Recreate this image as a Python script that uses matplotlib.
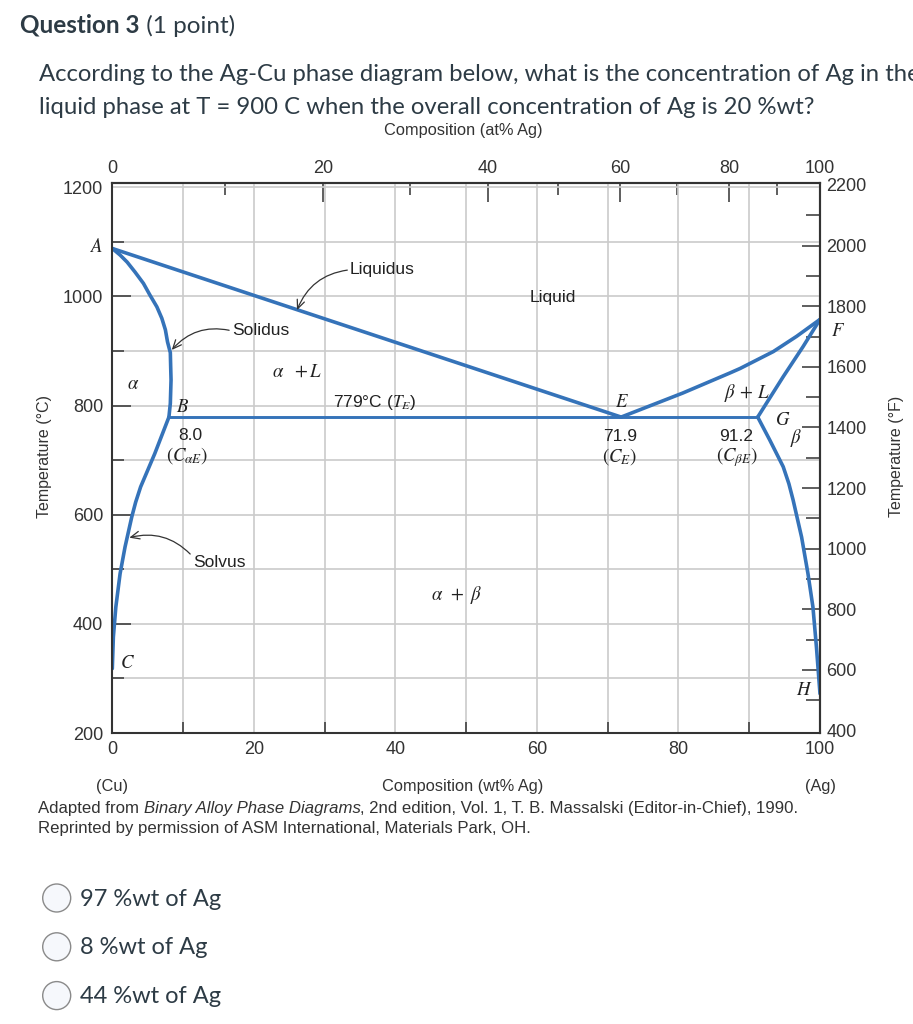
import numpy as np
import matplotlib
matplotlib.use("Agg")
import matplotlib.pyplot as plt
from matplotlib.patches import Circle

plt.rcParams['font.family'] = ['Liberation Sans', 'DejaVu Sans']
plt.rcParams['mathtext.fontset'] = 'stix'

# phase boundaries (wt% Ag, deg C)
liquidus_cu_wt = [0, 71.9]
liquidus_cu_T = [1088, 779]
liquidus_ag_wt = [71.9, 80.6, 87.3, 88.7, 93.4, 96.7, 100]
liquidus_ag_T = [779, 823, 860, 868, 899, 927, 958]
solidus_a_wt = [0, 1.1, 2.1, 3.2, 4.4, 5.3, 6.3, 7.0, 7.5, 7.8, 8.2, 8.25, 8.3, 8.2, 8.0]
solidus_a_T = [1088, 1076, 1063, 1045, 1024, 1003, 981, 960, 939, 917, 897, 871, 847, 804, 779]
solvus_a_wt = [8.0, 6.0, 4.0, 3.3, 2.75, 1.8, 1.1, 0.5, 0.15, 0]
solvus_a_T = [779, 712, 651, 623, 596, 541, 492, 431, 376, 318]
solidus_b_wt = [91.2, 94.8, 97.6, 100]
solidus_b_T = [779, 853, 908, 958]
solvus_b_wt = [91.2, 92.9, 94.8, 95.6, 96.2, 97.4, 98.3, 99.0, 99.5, 100]
solvus_b_T = [779, 737, 688, 657, 627, 559, 492, 431, 357, 272]
eutectic_wt = [8.0, 91.2]
eutectic_T = [779, 779]

wt_ticks = [0, 20, 40, 60, 80, 100]
wt_minor = [10, 30, 50, 70, 90]
at_ticks = [0, 20, 40, 60, 80, 100]
at_minor = [10, 30, 50, 70, 90]
degC_ticks = [200, 400, 600, 800, 1000, 1200]
degC_minor = [300, 500, 700, 900, 1100]
degF_ticks = [400, 600, 800, 1000, 1200, 1400, 1600, 1800, 2000, 2200]
degF_minor = [500, 700, 900, 1100, 1300, 1500, 1700, 1900, 2100]

options = ["97 %wt of Ag", "8 %wt of Ag", "44 %wt of Ag"]

M_CU, M_AG = 63.55, 107.87


def wt2at(w):
    w = np.asarray(w, dtype=float)
    with np.errstate(divide='ignore', invalid='ignore'):
        return 100 * (w / M_AG) / (w / M_AG + (100 - w) / M_CU)


def at2wt(a):
    a = np.asarray(a, dtype=float)
    with np.errstate(divide='ignore', invalid='ignore'):
        return 100 * a * M_AG / (a * M_AG + (100 - a) * M_CU)


def c2f(c):
    return np.asarray(c, dtype=float) * 9 / 5 + 32


def f2c(f):
    return (np.asarray(f, dtype=float) - 32) * 5 / 9


W, H = 913, 1024
fig = plt.figure(figsize=(W / 100, H / 100), dpi=100)

# page overlay in pixel coordinates
pg = fig.add_axes([0, 0, 1, 1])
pg.set_xlim(0, W)
pg.set_ylim(H, 0)
pg.axis('off')

qcol = '#2d3b45'
t1 = pg.text(20, 33, "Question 3", family='Lato', weight='bold', size=17.5,
             color=qcol, va='baseline')
pg.annotate(" (1 point)", xy=(1, 0), xycoords=t1, va='bottom', ha='left',
            family='Lato', size=17.5, color=qcol)
pg.text(39, 81, "According to the Ag-Cu phase diagram below, what is the concentration of Ag in the",
        family='Lato', size=17.2, color=qcol, va='baseline')
pg.text(39, 114, "liquid phase at T = 900 C when the overall concentration of Ag is 20 %wt?",
        family='Lato', size=17.2, color=qcol, va='baseline')

for i, opt in enumerate(options):
    cy = 898 + i * 48.8
    pg.add_patch(Circle((56.7, cy), 14, facecolor='#f6f8fc', edgecolor='#8a8a8a', lw=1))
    pg.text(80, cy + 1, opt, family='Lato', size=17, color=qcol, va='center')

tcol = '#333333'
pg.text(463, 130, "Composition (at% Ag)", ha='center', va='center', size=11.8, color=tcol)
pg.text(45, 456, "Temperature (°C)", ha='center', va='center', rotation=90, size=11.5, color=tcol)
pg.text(896, 456, "Temperature (°F)", ha='center', va='center', rotation=90, size=11.5, color=tcol)
pg.text(112, 786, "(Cu)", ha='center', va='center', size=11.8, color=tcol)
pg.text(463, 786, "Composition (wt% Ag)", ha='center', va='center', size=11.8, color=tcol)
pg.text(820, 786, "(Ag)", ha='center', va='center', size=11.8, color=tcol)
cap = 12.1
c1 = pg.text(38, 808, "Adapted from ", va='center', size=cap, color=tcol)
c2 = pg.annotate("Binary Alloy Phase Diagrams", xy=(1, 0), xycoords=c1, va='bottom',
                 style='italic', size=cap, color=tcol)
pg.annotate(", 2nd edition, Vol. 1, T. B. Massalski (Editor-in-Chief), 1990.", xy=(1, 0),
            xycoords=c2, va='bottom', size=cap, color=tcol)
pg.text(38, 829, "Reprinted by permission of ASM International, Materials Park, OH.",
        va='center', size=cap, color=tcol)

# the phase diagram
left, right, top, bottom = 112.3, 820, 183, 733
ax = fig.add_axes([left / W, 1 - bottom / H, (right - left) / W, (bottom - top) / H])
ax.set_xlim(0, 100)
ax.set_ylim(200, 1208)

blue = '#3573b9'
kw = dict(color=blue, lw=2.6, solid_capstyle='round', solid_joinstyle='round')
ax.plot(liquidus_cu_wt, liquidus_cu_T, **kw)
ax.plot(liquidus_ag_wt, liquidus_ag_T, **kw)
ax.plot(solidus_a_wt, solidus_a_T, **kw)
ax.plot(solvus_a_wt, solvus_a_T, **kw)
ax.plot(solidus_b_wt, solidus_b_T, **kw)
ax.plot(solvus_b_wt, solvus_b_T, **kw)
ax.plot(eutectic_wt, eutectic_T, color=blue, lw=2.1)

ax.set_xticks(wt_ticks)
ax.set_xticks(wt_minor, minor=True)
ax.set_yticks(degC_ticks)
ax.set_yticks(degC_minor, minor=True)
ax.tick_params(axis='x', which='major', length=0, pad=6, labelsize=13, labelcolor=tcol)
ax.tick_params(axis='x', which='minor', direction='in', length=8, width=1.1, color=tcol)
ax.tick_params(axis='y', which='major', direction='in', length=14, width=1.1, color=tcol,
               pad=6.5, labelsize=13, labelcolor=tcol)
ax.tick_params(axis='y', which='minor', direction='in', length=8.5, width=1.1, color=tcol)
ax.grid(which='both', color='#cbcbcb', lw=1.2)
ax.set_axisbelow(True)
for s in ax.spines.values():
    s.set_color(tcol)
    s.set_linewidth(1.5)

secx = ax.secondary_xaxis('top', functions=(wt2at, at2wt))
secx.set_xticks(at_ticks)
secx.set_xticks(at_minor, minor=True)
secx.tick_params(which='major', direction='in', length=13.5, width=1.1, color=tcol,
                 pad=4, labelsize=13, labelcolor=tcol)
secx.tick_params(which='minor', direction='in', length=8.5, width=1.1, color=tcol)
secx.spines['top'].set_color(tcol)
secx.spines['top'].set_linewidth(1.5)

secy = ax.secondary_yaxis('right', functions=(c2f, f2c))
secy.set_yticks(degF_ticks)
secy.set_yticks(degF_minor, minor=True)
secy.tick_params(which='major', direction='in', length=13, width=1.1, color=tcol,
                 pad=4.5, labelsize=13, labelcolor=tcol)
secy.tick_params(which='minor', direction='in', length=10, width=1.1, color=tcol)
secy.spines['right'].set_color(tcol)
secy.spines['right'].set_linewidth(1.5)

# ticks that sit on the frame corners are not drawn in the original
ax.yaxis.get_major_ticks()[-1].tick1line.set_visible(False)
ax.yaxis.get_major_ticks()[0].tick1line.set_visible(False)
secy.yaxis.get_major_ticks()[-1].tick2line.set_visible(False)
secy.yaxis.get_major_ticks()[0].tick2line.set_visible(False)

# region and point labels
lab = dict(color='#222222', ha='center', va='center', clip_on=False)
ax.text(-2.2, 1091, "$A$", size=13.5, **lab)
ax.text(10.0, 797, "$B$", size=13.5, **lab)
ax.text(2.1, 328, "$C$", size=13.5, **lab)
ax.text(72.0, 806, "$E$", size=13.5, **lab)
ax.text(102.5, 935, "$F$", size=13.5, **lab)
ax.text(94.7, 772, "$G$", size=13.5, **lab)
ax.text(97.8, 278, "$H$", size=13.5, **lab)
ax.text(2.9, 838, r"$\alpha$", size=13.5, **lab)
ax.text(96.7, 740, r"$\beta$", size=13.5, **lab)
ax.text(26.1, 862, r"$\alpha\ \ + L$", size=13.5, **lab)
ax.text(89.6, 823, r"$\beta\,+\,L$", size=13.5, **lab)
ax.text(48.7, 452, r"$\alpha\ \,+\ \beta$", size=13.5, **lab)
ax.text(62.3, 999, "Liquid", size=12.5, **lab)
ax.text(37.1, 806, r"779°C ($T_E$)", size=12.5, **lab)
ax.text(11.0, 746, "8.0", size=12.5, **lab)
ax.text(10.6, 709, r"$(C_{\alpha E})$", size=13.5, **lab)
ax.text(71.7, 744, "71.9", size=12.5, **lab)
ax.text(71.7, 707, r"$(C_{E})$", size=13.5, **lab)
ax.text(88.2, 744, "91.2", size=12.5, **lab)
ax.text(88.2, 706, r"$(C_{\beta E})$", size=13.5, **lab)

arr = dict(arrowstyle='->,head_length=0.5,head_width=0.22', color='#333333', lw=0.9,
           shrinkA=0, shrinkB=0)
ax.annotate("Liquidus", xy=(26.1, 975), xytext=(33.6, 1049), size=12.5, color='#222222',
            ha='left', va='center',
            arrowprops=dict(connectionstyle='arc3,rad=0.3', relpos=(0, 0.5), **arr))
ax.annotate("Solidus", xy=(8.4, 902), xytext=(16.9, 937), size=12.5, color='#222222',
            ha='left', va='center',
            arrowprops=dict(connectionstyle='arc3,rad=0.3', relpos=(0, 0.5), **arr))
ax.annotate("Solvus", xy=(2.4, 558), xytext=(11.4, 513), size=12.5, color='#222222',
            ha='left', va='center',
            arrowprops=dict(connectionstyle='arc3,rad=0.3', relpos=(0, 0.85), **arr))

fig.savefig("out.png", dpi=100)
